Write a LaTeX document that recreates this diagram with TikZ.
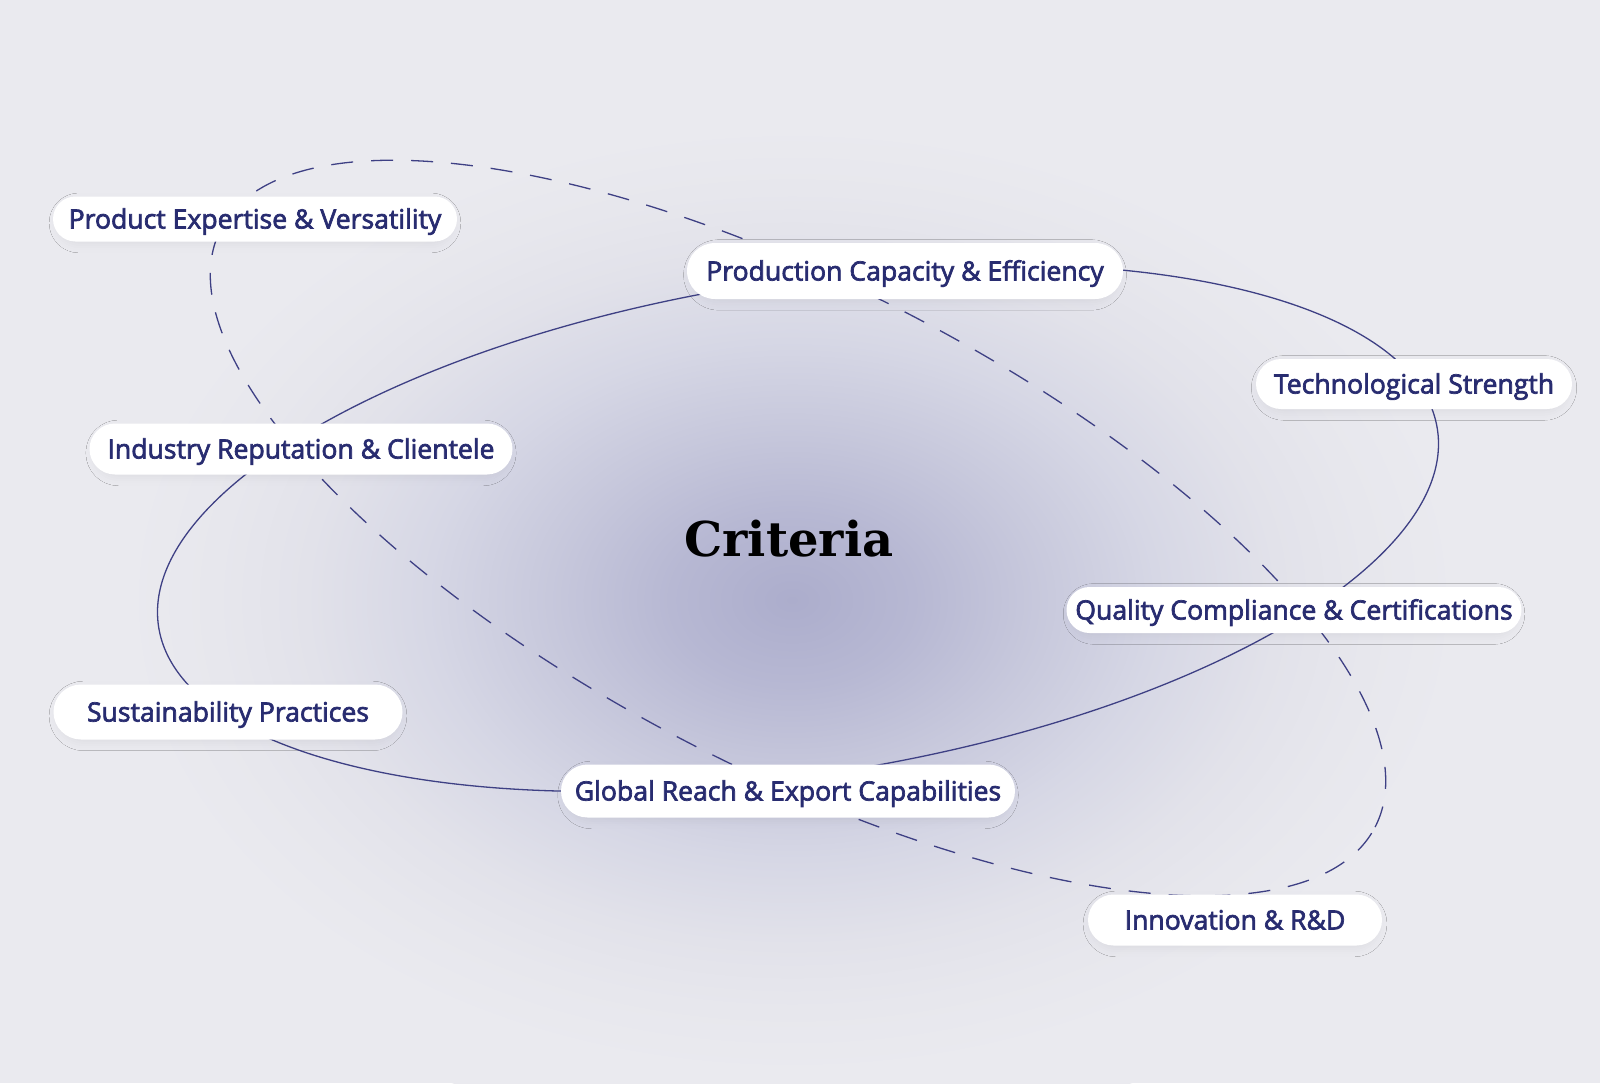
\documentclass[tikz,border=0pt]{standalone}
\usepackage{fontspec}
\usepackage{xcolor}
\usepackage{tikz}
\usetikzlibrary{positioning, shapes.misc, shadows.blur}
\newfontfamily\pillfont{Open Sans}[FakeBold=2.6]
\newfontfamily\critfont{DejaVu Serif}
\definecolor{haze}{RGB}{234,234,239}
\definecolor{glowA}{RGB}{172,173,204}
\definecolor{glowB}{RGB}{183,184,211}
\definecolor{glowC}{RGB}{199,200,220}
\definecolor{glowD}{RGB}{214,215,229}
\definecolor{glowE}{RGB}{226,226,234}
\definecolor{glowF}{RGB}{231,231,237}
\definecolor{ink}{RGB}{40,44,112}
\definecolor{orbitc}{RGB}{62,64,132}
\pgfdeclareradialshading{glow}{\pgfpoint{0bp}{0bp}}{color(0bp)=(glowA); color(4bp)=(glowB); color(8bp)=(glowC); color(12bp)=(glowD); color(16bp)=(glowE); color(19bp)=(glowF); color(22bp)=(haze); color(50bp)=(haze)}

\begin{document}
\begin{tikzpicture}[x=0.5pt, y=0.5pt,
  pill/.style={rounded rectangle, fill=white, text=ink, font=\pillfont\fontsize{13.3}{15}\selectfont, text height=9.5pt, text depth=0pt, inner xsep=0pt, inner ysep=0pt, blur shadow={shadow xshift=0pt, shadow yshift=-2pt, shadow scale=0.98, shadow blur radius=4pt, shadow opacity=5}},
  hub/.style={font=\critfont\bfseries\fontsize{24}{28}\selectfont, text=black},
  orbit/.style={draw=orbitc, line width=0.65pt},
  orbitd/.style={orbit, dash pattern=on 11pt off 9pt}]
\useasboundingbox (0,0) rectangle (1600,-1083);
% backdrop and glow
\begin{scope}
\clip (0,0) rectangle (1600,-1083);
\fill[haze] (0,0) rectangle (1600,-1083);
\shade[shading=glow] (792,-600) ellipse [x radius=760, y radius=540];
\end{scope}
% the two orbits
\draw[orbit, rotate around={8.8:(798,-528)}] (798,-528) ellipse [x radius=647, y radius=247];
\draw[orbitd, rotate around={-27.4:(798,-528)}] (798,-528) ellipse [x radius=650, y radius=241];
% criteria
\node[pill, minimum width=202pt, minimum height=22.5pt] (prodexp) at (255,-219) {Product Expertise \& Versatility};
\node[pill, minimum width=218pt, minimum height=28pt] (prodcap) at (905,-271) {Production Capacity \& Efficiency};
\node[pill, minimum width=158pt, minimum height=25pt] (techstr) at (1414,-384) {Technological Strength};
\node[pill, minimum width=211.5pt, minimum height=25.5pt] (indrep) at (301,-449) {Industry Reputation \& Clientele};
\node[pill, minimum width=227.5pt, minimum height=23pt] (qualcomp) at (1294,-610) {Quality Compliance \& Certifications};
\node[pill, minimum width=174.5pt, minimum height=27.5pt] (sustain) at (228,-712) {Sustainability Practices};
\node[pill, minimum width=227pt, minimum height=26.5pt] (global) at (788,-791) {Global Reach \& Export Capabilities};
\node[pill, minimum width=147pt, minimum height=25.5pt] (innov) at (1235,-920) {Innovation \& R\&D};
\node[hub, anchor=base] (crit) at (789,-556) {Criteria};
\end{tikzpicture}
\end{document}
